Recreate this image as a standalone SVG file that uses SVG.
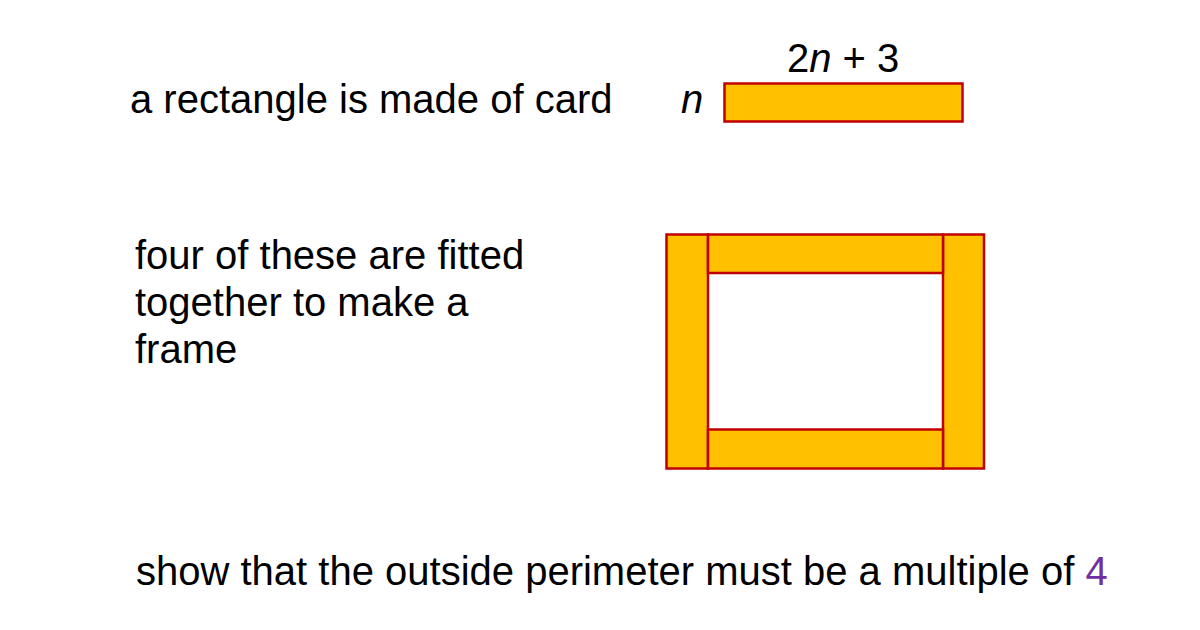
<svg xmlns="http://www.w3.org/2000/svg" width="1200" height="630" viewBox="0 0 1200 630">
<style>
.t{font-family:"Liberation Sans",Arial,sans-serif;font-size:40px;fill:#000}
.i{font-style:italic}
.card{fill:#FFC000;stroke:#C00000;stroke-width:2.5}
</style>
<rect width="1200" height="630" fill="#fff"/>
<g id="label-card">
<text class="t" x="130" y="113">a rectangle is made of card</text>
</g>
<g id="card">
<rect class="card" x="724.5" y="83.5" width="238" height="38"/>
<text class="t" x="787" y="72">2<tspan class="i">n</tspan> + 3</text>
<text class="t i" x="681" y="113">n</text>
</g>
<g id="label-frame">
<text class="t" x="135" y="269">four of these are fitted</text>
<text class="t" x="135" y="316">together to make a</text>
<text class="t" x="135" y="363">frame</text>
</g>
<g id="frame">
<rect class="card" x="666.5" y="234.5" width="41.5" height="234"/>
<rect class="card" x="943" y="234.5" width="41" height="234"/>
<rect class="card" x="708" y="234.5" width="235" height="38.5"/>
<rect class="card" x="708" y="429.5" width="235" height="39"/>
</g>
<g id="question">
<text class="t" x="136" y="585">show that the outside perimeter must be a multiple of <tspan fill="#7030A0">4</tspan></text>
</g>
</svg>
